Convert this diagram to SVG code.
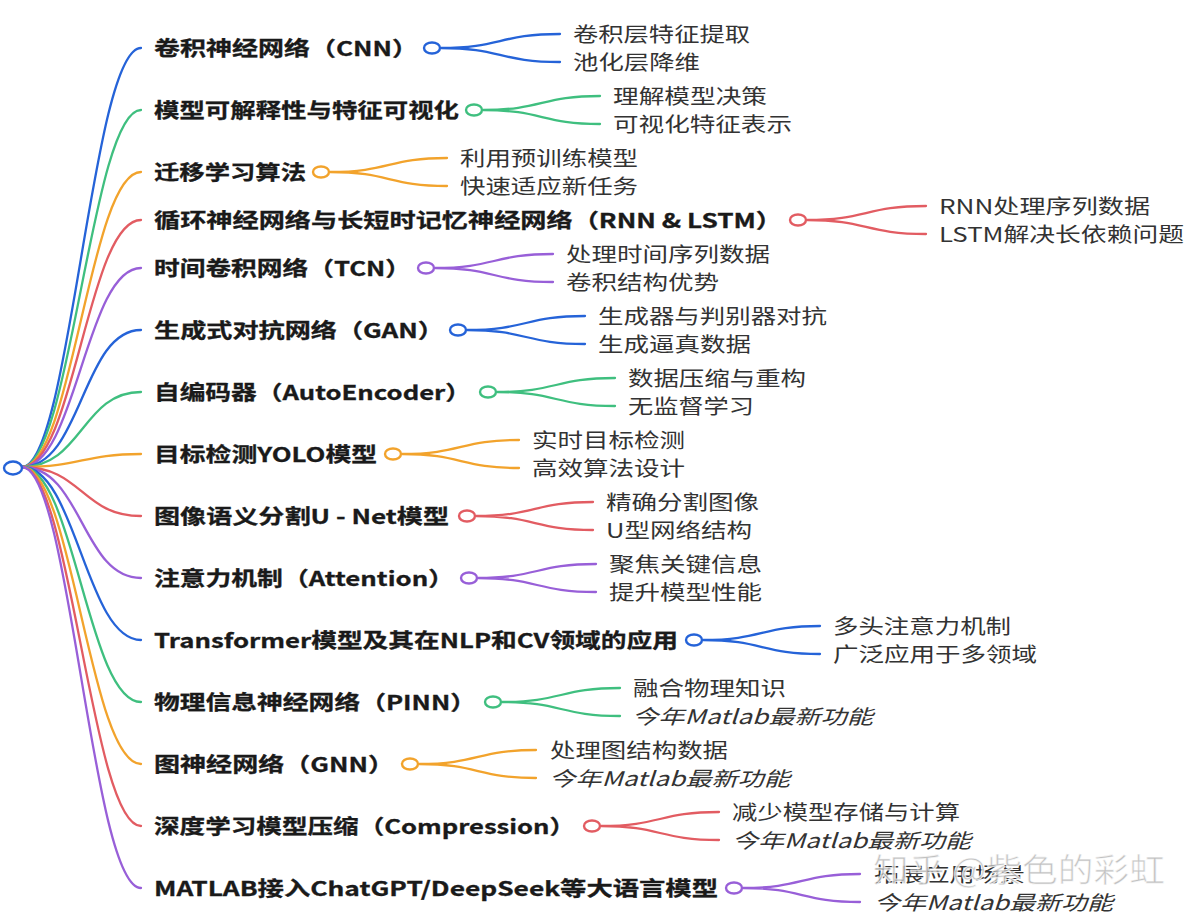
<svg xmlns="http://www.w3.org/2000/svg" width="1194" height="917" viewBox="0 0 1194 917">
<style>
text{font-family:"Noto Sans CJK SC","Liberation Sans",sans-serif;fill:#1a1a1a}
.t{font-size:20px;font-weight:700;stroke:#1a1a1a;stroke-width:.3}
.s{font-size:20px;fill:#333}
.i{font-style:italic}
.w{font-size:33px;fill:#b0b0b0;fill-opacity:.8;stroke:#fff;stroke-opacity:.75;stroke-width:1.2}
path{fill:none;stroke-width:2.3;stroke-linecap:round}
ellipse{fill:#fff;stroke-width:2.4}
.b{stroke:#2563d8}.g{stroke:#3fbf7f}.o{stroke:#f2a32c}.r{stroke:#e25c62}.p{stroke:#985fd8}
</style>
<rect width="1194" height="917" fill="#fff"/>
<g id="connectors">
<path class="b" d="M22 467C70 467 92 48 141 48"/>
<path class="g" d="M22 467C70 467 92 110 141 110"/>
<path class="o" d="M22 467C72 467 90 172 141 172"/>
<path class="r" d="M22 467C74 467 88 220 141 220"/>
<path class="p" d="M22 467C76 467 86 268 141 268"/>
<path class="b" d="M22 467C82 467 82 330 141 330"/>
<path class="g" d="M22 467C82 467 82 392 141 392"/>
<path class="o" d="M22 467C82 467 82 454 141 454"/>
<path class="r" d="M22 467C82 467 82 516 141 516"/>
<path class="p" d="M22 467C82 467 82 578 141 578"/>
<path class="b" d="M22 467C76 467 86 640 141 640"/>
<path class="g" d="M22 467C74 467 88 702 141 702"/>
<path class="o" d="M22 467C72 467 90 764 141 764"/>
<path class="r" d="M22 467C70 467 92 826 141 826"/>
<path class="p" d="M22 467C70 467 92 888 141 888"/>
<path class="b" d="M441 48C500 48 500 34 560 34M441 48C500 48 500 62 560 62"/>
<path class="g" d="M483 110C542 110 542 96 600 96M483 110C542 110 542 124 600 124"/>
<path class="o" d="M330 172C389 172 389 158 447 158M330 172C389 172 389 186 447 186"/>
<path class="r" d="M807 220C866 220 866 206 926 206M807 220C866 220 866 234 926 234"/>
<path class="p" d="M435 268C494 268 494 254 553 254M435 268C494 268 494 282 553 282"/>
<path class="b" d="M467 330C526 330 526 316 585 316M467 330C526 330 526 344 585 344"/>
<path class="g" d="M497 392C556 392 556 378 615 378M497 392C556 392 556 406 615 406"/>
<path class="o" d="M402 454C461 454 461 440 519 440M402 454C461 454 461 468 519 468"/>
<path class="r" d="M476 516C535 516 535 502 593 502M476 516C535 516 535 530 593 530"/>
<path class="p" d="M478 578C537 578 537 564 596 564M478 578C537 578 537 592 596 592"/>
<path class="b" d="M703 640C762 640 762 626 820 626M703 640C762 640 762 654 820 654"/>
<path class="g" d="M502 702C561 702 561 688 620 688M502 702C561 702 561 716 620 716"/>
<path class="o" d="M419 764C478 764 478 750 536 750M419 764C478 764 478 778 536 778"/>
<path class="r" d="M601 826C660 826 660 812 719 812M601 826C660 826 660 840 719 840"/>
<path class="p" d="M743 888C802 888 802 874 860 874M743 888C802 888 802 902 860 902"/>
</g>
<g id="root"><ellipse class="b" cx="13" cy="468" rx="9" ry="6.5"/></g>
<g id="n1"><text class="t" x="154" y="56" textLength="264" lengthAdjust="spacingAndGlyphs">卷积神经网络（CNN）</text><ellipse class="b" cx="432" cy="48" rx="8" ry="5.5"/><text class="s" x="573" y="42" textLength="177" lengthAdjust="spacingAndGlyphs">卷积层特征提取</text><text class="s" x="573" y="70" textLength="127" lengthAdjust="spacingAndGlyphs">池化层降维</text></g>
<g id="n2"><text class="t" x="154" y="118" textLength="305" lengthAdjust="spacingAndGlyphs">模型可解释性与特征可视化</text><ellipse class="g" cx="474" cy="110" rx="8" ry="5.5"/><text class="s" x="613" y="104" textLength="154" lengthAdjust="spacingAndGlyphs">理解模型决策</text><text class="s" x="613" y="132" textLength="179" lengthAdjust="spacingAndGlyphs">可视化特征表示</text></g>
<g id="n3"><text class="t" x="154" y="180" textLength="152" lengthAdjust="spacingAndGlyphs">迁移学习算法</text><ellipse class="o" cx="321" cy="172" rx="8" ry="5.5"/><text class="s" x="460" y="166" textLength="178" lengthAdjust="spacingAndGlyphs">利用预训练模型</text><text class="s" x="460" y="194" textLength="178" lengthAdjust="spacingAndGlyphs">快速适应新任务</text></g>
<g id="n4"><text class="t" x="154" y="228" textLength="628" lengthAdjust="spacingAndGlyphs">循环神经网络与长短时记忆神经网络（RNN &amp; LSTM）</text><ellipse class="r" cx="798" cy="220" rx="8" ry="5.5"/><text class="s" x="939" y="214" textLength="211" lengthAdjust="spacingAndGlyphs">RNN处理序列数据</text><text class="s" x="939" y="242" textLength="245" lengthAdjust="spacingAndGlyphs">LSTM解决长依赖问题</text></g>
<g id="n5"><text class="t" x="154" y="276" textLength="257" lengthAdjust="spacingAndGlyphs">时间卷积网络（TCN）</text><ellipse class="p" cx="426" cy="268" rx="8" ry="5.5"/><text class="s" x="566" y="262" textLength="204" lengthAdjust="spacingAndGlyphs">处理时间序列数据</text><text class="s" x="566" y="290" textLength="153" lengthAdjust="spacingAndGlyphs">卷积结构优势</text></g>
<g id="n6"><text class="t" x="154" y="338" textLength="290" lengthAdjust="spacingAndGlyphs">生成式对抗网络（GAN）</text><ellipse class="b" cx="458" cy="330" rx="8" ry="5.5"/><text class="s" x="598" y="324" textLength="229" lengthAdjust="spacingAndGlyphs">生成器与判别器对抗</text><text class="s" x="598" y="352" textLength="153" lengthAdjust="spacingAndGlyphs">生成逼真数据</text></g>
<g id="n7"><text class="t" x="154" y="400" textLength="317" lengthAdjust="spacingAndGlyphs">自编码器（AutoEncoder）</text><ellipse class="g" cx="488" cy="392" rx="8" ry="5.5"/><text class="s" x="628" y="386" textLength="178" lengthAdjust="spacingAndGlyphs">数据压缩与重构</text><text class="s" x="628" y="414" textLength="126" lengthAdjust="spacingAndGlyphs">无监督学习</text></g>
<g id="n8"><text class="t" x="154" y="462" textLength="223" lengthAdjust="spacingAndGlyphs">目标检测YOLO模型</text><ellipse class="o" cx="393" cy="454" rx="8" ry="5.5"/><text class="s" x="532" y="448" textLength="153" lengthAdjust="spacingAndGlyphs">实时目标检测</text><text class="s" x="532" y="476" textLength="153" lengthAdjust="spacingAndGlyphs">高效算法设计</text></g>
<g id="n9"><text class="t" x="154" y="524" textLength="295" lengthAdjust="spacingAndGlyphs">图像语义分割U - Net模型</text><ellipse class="r" cx="467" cy="516" rx="8" ry="5.5"/><text class="s" x="606" y="510" textLength="153" lengthAdjust="spacingAndGlyphs">精确分割图像</text><text class="s" x="606" y="538" textLength="146" lengthAdjust="spacingAndGlyphs">U型网络结构</text></g>
<g id="n10"><text class="t" x="154" y="586" textLength="300" lengthAdjust="spacingAndGlyphs">注意力机制（Attention）</text><ellipse class="p" cx="469" cy="578" rx="8" ry="5.5"/><text class="s" x="609" y="572" textLength="153" lengthAdjust="spacingAndGlyphs">聚焦关键信息</text><text class="s" x="609" y="600" textLength="153" lengthAdjust="spacingAndGlyphs">提升模型性能</text></g>
<g id="n11"><text class="t" x="154" y="648" textLength="524" lengthAdjust="spacingAndGlyphs">Transformer模型及其在NLP和CV领域的应用</text><ellipse class="b" cx="694" cy="640" rx="8" ry="5.5"/><text class="s" x="833" y="634" textLength="178" lengthAdjust="spacingAndGlyphs">多头注意力机制</text><text class="s" x="833" y="662" textLength="204" lengthAdjust="spacingAndGlyphs">广泛应用于多领域</text></g>
<g id="n12"><text class="t" x="154" y="710" textLength="322" lengthAdjust="spacingAndGlyphs">物理信息神经网络（PINN）</text><ellipse class="g" cx="493" cy="702" rx="8" ry="5.5"/><text class="s" x="633" y="696" textLength="153" lengthAdjust="spacingAndGlyphs">融合物理知识</text><text class="s i" x="632" y="724" textLength="241" lengthAdjust="spacingAndGlyphs">今年Matlab最新功能</text></g>
<g id="n13"><text class="t" x="154" y="772" textLength="240" lengthAdjust="spacingAndGlyphs">图神经网络（GNN）</text><ellipse class="o" cx="410" cy="764" rx="8" ry="5.5"/><text class="s" x="550" y="758" textLength="178" lengthAdjust="spacingAndGlyphs">处理图结构数据</text><text class="s i" x="549" y="786" textLength="241" lengthAdjust="spacingAndGlyphs">今年Matlab最新功能</text></g>
<g id="n14"><text class="t" x="154" y="834" textLength="421" lengthAdjust="spacingAndGlyphs">深度学习模型压缩（Compression）</text><ellipse class="r" cx="592" cy="826" rx="8" ry="5.5"/><text class="s" x="732" y="820" textLength="228" lengthAdjust="spacingAndGlyphs">减少模型存储与计算</text><text class="s i" x="732" y="848" textLength="239" lengthAdjust="spacingAndGlyphs">今年Matlab最新功能</text></g>
<g id="n15"><text class="t" x="154" y="896" textLength="564" lengthAdjust="spacingAndGlyphs">MATLAB接入ChatGPT/DeepSeek等大语言模型</text><ellipse class="p" cx="734" cy="888" rx="8" ry="5.5"/><text class="s" x="874" y="882" textLength="151" lengthAdjust="spacingAndGlyphs">拓展应用场景</text><text class="s i" x="874" y="910" textLength="239" lengthAdjust="spacingAndGlyphs">今年Matlab最新功能</text></g>
<text class="w" x="873" y="882" textLength="292" lengthAdjust="spacingAndGlyphs">知乎 @紫色的彩虹</text>
</svg>
